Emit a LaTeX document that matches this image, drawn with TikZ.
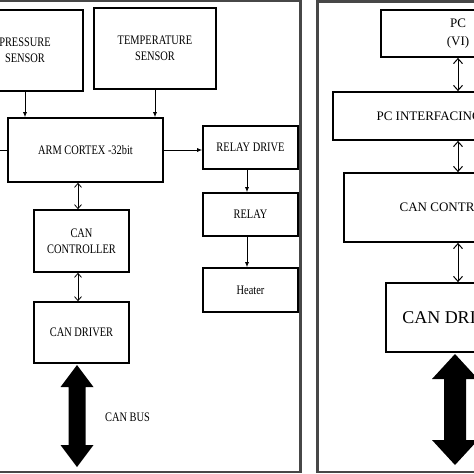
\documentclass[tikz,border=0pt]{standalone}
\usepackage{fontspec}
\setmainfont{Liberation Serif}
\newfontfamily\condf[FakeStretch=0.8]{Liberation Serif}
\usetikzlibrary{arrows.meta}
\tikzset{
  lbox/.style={draw, line width=1.6pt, inner sep=0pt, align=center,
    font=\condf\fontsize{13}{16}\selectfont},
  rbox/.style={draw, line width=1.8pt, inner sep=0pt, align=center,
    font=\fontsize{13}{18}\selectfont},
  frame/.style={draw=black!72, line width=2.2pt},
  sarrow/.style={line width=0.8pt, -{Latex[length=5pt,width=4pt]}},
  darrow/.style={line width=0.8pt, {Straight Barb[length=4pt,width=7pt]}-{Straight Barb[length=4pt,width=7pt]}},
  rdarrow/.style={line width=1pt, {Straight Barb[length=5pt,width=9pt]}-{Straight Barb[length=5pt,width=9pt]}},
  bigarrow/.style={fill=black, draw=none}
}
\begin{document}
\begin{tikzpicture}[x=1pt,y=-1pt]
\useasboundingbox (0,0) rectangle (474,474);
\clip (0,0) rectangle (474,474);
\fill[white] (0,0) rectangle (474,474);
% frames
\draw[frame] (-20,1) rectangle (300.5,472);
\draw[frame] (317.5,1.5) rectangle (520,472);
% left panel boxes
\node[lbox, minimum width=116pt, minimum height=81pt] (ps) at (25,50.5) {PRESSURE\\SENSOR};
\node[lbox, minimum width=122pt, minimum height=81pt] (ts) at (155,48.5) {TEMPERATURE\\SENSOR};
\node[lbox, minimum width=155pt, minimum height=64pt] (arm) at (85.5,150) {ARM CORTEX -32bit};
\node[lbox, minimum width=95pt, minimum height=43pt] (rd) at (250.5,147.5) {RELAY DRIVE};
\node[lbox, minimum width=95pt, minimum height=43pt] (rl) at (250.5,214.5) {RELAY};
\node[lbox, minimum width=95pt, minimum height=44pt] (ht) at (250.5,290) {Heater};
\node[lbox, minimum width=95pt, minimum height=62pt] (cc) at (81.5,241) {CAN\\CONTROLLER};
\node[lbox, minimum width=95pt, minimum height=61pt] (cd) at (81.5,332.5) {CAN DRIVER};
\node[font=\condf\fontsize{13}{16}\selectfont, anchor=west, inner sep=0pt] (bus) at (105,417) {CAN BUS};
% left connectors
\coordinate (lin) at (-10,150);
\draw[line width=0.8pt] (lin) -- (arm.west);
\draw[sarrow] (ps.south) -- (ps.south |- arm.north);
\draw[sarrow] (ts.south) -- (ts.south |- arm.north);
\draw[sarrow] (arm.east) -- (arm.east -| rd.west);
\coordinate (rx) at (247,0);
\draw[sarrow] (rd.south -| rx) -- (rl.north -| rx);
\draw[sarrow] (rl.south -| rx) -- (ht.north -| rx);
\coordinate (cx) at (78,0);
\draw[darrow] (arm.south -| cx) -- (cc.north -| cx);
\draw[darrow] (cc.south -| cx) -- (cd.north -| cx);
% left big bus arrow
\coordinate (lbt) at (77,365);
\coordinate (lbb) at (77,467);
\fill[bigarrow] (lbt) -- ++(16.5,22) -- ++(-8,0) -- (85.5,445) -- ++(8,0) -- (lbb)
  -- (60.5,445) -- ++(8,0) -- (68.5,387) -- ++(-8,0) -- cycle;
% right panel boxes
\node[rbox, minimum width=154pt, minimum height=47pt] (pc) at (458,33.5) {PC\\(VI)};
\node[rbox, minimum width=192pt, minimum height=48pt] (pcif) at (429,116) {PC INTERFACING};
\node[rbox, minimum width=228pt, minimum height=69pt] (ccr) at (458,207.5) {CAN CONTROLLER};
\node[rbox, minimum width=142pt, minimum height=69pt, font=\fontsize{18}{20}\selectfont] (cdr) at (457,317.5) {CAN DRIVER};
\coordinate (ax) at (458,0);
\draw[rdarrow] (pc.south -| ax) -- (pcif.north -| ax);
\draw[rdarrow] (pcif.south -| ax) -- (ccr.north -| ax);
\draw[rdarrow] (ccr.south -| ax) -- (cdr.north -| ax);
% right big arrow
\coordinate (rbt) at (455,354);
\coordinate (rbb) at (455,465);
\fill[bigarrow] (rbt) -- (478,379) -- (466,379) -- (466,440) -- (478,440) -- (rbb)
  -- (432,440) -- (444,440) -- (444,379) -- (432,379) -- cycle;
\end{tikzpicture}
\end{document}
